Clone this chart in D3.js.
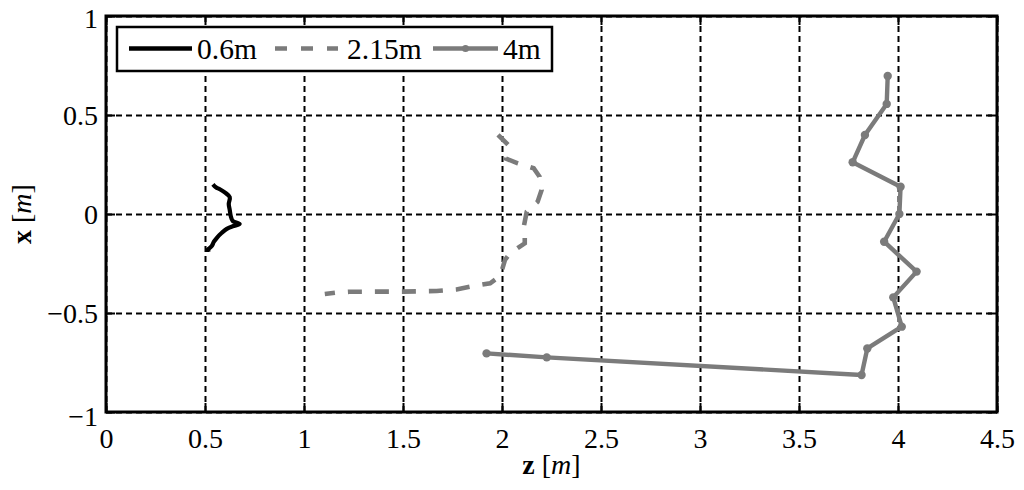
<!DOCTYPE html>
<html>
<head>
<meta charset="utf-8">
<script src="https://cdn.jsdelivr.net/npm/d3@7"></script>
<style>
html,body{margin:0;padding:0;background:#fff;}
svg text{font-family:"Liberation Serif","Times New Roman",serif;fill:#000;}
</style>
</head>
<body>
<svg id="chart" width="1024" height="490"></svg>
<script>
// ---------- data ----------
const seriesNames = ["0.6m", "2.15m", "4m"];
const zTicks = [0, 0.5, 1, 1.5, 2, 2.5, 3, 3.5, 4, 4.5];
const xTicks = [-1, -0.5, 0, 0.5, 1];

// series 0.6m : z values and x values
const z06 = [0.54, 0.555, 0.575, 0.605, 0.625, 0.62, 0.625, 0.63, 0.64, 0.675, 0.64, 0.61, 0.585, 0.56, 0.545, 0.535, 0.52, 0.51, 0.525];
const x06 = [0.15, 0.135, 0.125, 0.105, 0.085, 0.05, 0.02, -0.01, -0.035, -0.05, -0.062, -0.075, -0.095, -0.12, -0.14, -0.16, -0.175, -0.183, -0.178];

// series 2.15m
const z215 = [1.98, 2.03, 2.02, 2.08, 2.16, 2.19, 2.20, 2.18, 2.125, 2.11, 2.115, 2.115, 2.09, 2.04, 2.015, 2.0, 1.975, 1.94, 1.855, 1.77, 1.67, 1.50, 1.37, 1.23, 1.165, 1.105];
const x215 = [0.40, 0.35, 0.28, 0.256, 0.231, 0.188, 0.121, 0.062, 0.012, -0.064, -0.106, -0.148, -0.165, -0.199, -0.232, -0.283, -0.325, -0.35, -0.364, -0.381, -0.389, -0.392, -0.392, -0.393, -0.397, -0.404];

// series 4m
const z4 = [3.948, 3.943, 3.833, 3.771, 4.013, 4.007, 3.93, 4.094, 3.976, 4.019, 3.845, 3.816, 2.226, 1.922];
const x4 = [0.697, 0.556, 0.399, 0.261, 0.138, 0.0, -0.14, -0.291, -0.421, -0.569, -0.679, -0.813, -0.724, -0.704];

// ---------- layout ----------
const L = 106, T = 16, R = 997, B = 412;
const svg = d3.select("#chart");

const sx = d3.scaleLinear().domain([0, 4.5]).range([L, R]);
const sy = d3.scaleLinear().domain([-1, 1]).range([B, T]);
const fmt = d3.format("~g");
const FONT = "'Liberation Serif', 'Times New Roman', serif";
const grey = "#7b7b7b";

// grid (dashed)
const gridX = svg.append("g").attr("transform", `translate(0,${B})`)
  .call(d3.axisBottom(sx).tickValues(zTicks).tickSize(-(B - T)).tickFormat(""));
gridX.select(".domain").remove();
gridX.selectAll("line").attr("stroke", "#000").attr("stroke-width", 2).attr("stroke-dasharray", "6,4");

const gridY = svg.append("g").attr("transform", `translate(${L},0)`)
  .call(d3.axisLeft(sy).tickValues(xTicks).tickSize(-(R - L)).tickFormat(""));
gridY.select(".domain").remove();
gridY.selectAll("line").attr("stroke", "#000").attr("stroke-width", 2).attr("stroke-dasharray", "6,4");

// inner ticks (solid) on all four sides
const tl = 9;
function solidTicks(axisGen, tr) {
  const g = svg.append("g").attr("transform", tr).call(axisGen);
  g.select(".domain").remove();
  g.selectAll("line").attr("stroke", "#000").attr("stroke-width", 2);
  g.selectAll("text").remove();
  return g;
}
solidTicks(d3.axisBottom(sx).tickValues(zTicks).tickSize(-tl), `translate(0,${B})`);
solidTicks(d3.axisTop(sx).tickValues(zTicks).tickSize(-tl), `translate(0,${T})`);
solidTicks(d3.axisLeft(sy).tickValues(xTicks).tickSize(-tl), `translate(${L},0)`);
solidTicks(d3.axisRight(sy).tickValues(xTicks).tickSize(-tl), `translate(${R},0)`);

// tick labels
const xl = svg.append("g").attr("transform", `translate(0,${B})`)
  .call(d3.axisBottom(sx).tickValues(zTicks).tickSize(0).tickFormat(fmt));
xl.attr("font-family", FONT);
xl.select(".domain").remove();
xl.selectAll("text").attr("y", 36).attr("dy", null)
  .style("font-size", "28px").style("font-family", FONT);

const yl = svg.append("g").attr("transform", `translate(${L},0)`)
  .call(d3.axisLeft(sy).tickValues(xTicks).tickSize(0).tickFormat(fmt));
yl.attr("font-family", FONT);
yl.select(".domain").remove();
yl.selectAll("text").attr("x", -8).attr("dy", null)
  .attr("y", d => d === 1 ? 11 : (d === -1 ? 13 : 9.5))
  .style("font-size", "28px").style("font-family", FONT);

// series lines
const line = d3.line().x(d => sx(d[0])).y(d => sy(d[1]));
const smooth = d3.line().x(d => sx(d[0])).y(d => sy(d[1])).curve(d3.curveCatmullRom);
const plot = svg.append("g");

plot.append("path").datum(d3.zip(z06, x06)).attr("d", smooth)
  .attr("fill", "none").attr("stroke", "#000").attr("stroke-width", 4.2)
  .attr("stroke-linejoin", "round");

plot.append("path").datum(d3.zip(z215, x215)).attr("d", line)
  .attr("fill", "none").attr("stroke", grey).attr("stroke-width", 4.6)
  .attr("stroke-dasharray", "14,13");

const d4 = d3.zip(z4, x4);
plot.append("path").datum(d4).attr("d", line)
  .attr("fill", "none").attr("stroke", grey).attr("stroke-width", 4.4)
  .attr("stroke-linejoin", "round");
plot.selectAll("circle.m4").data(d4).join("circle").attr("class", "m4")
  .attr("cx", d => sx(d[0])).attr("cy", d => sy(d[1])).attr("r", 4.2).attr("fill", grey);

// frame
svg.append("rect").attr("x", L).attr("y", T).attr("width", R - L).attr("height", B - T)
  .attr("fill", "none").attr("stroke", "#000").attr("stroke-width", 3);

// legend
const lg = svg.append("g");
lg.append("rect").attr("x", 117).attr("y", 27).attr("width", 435).attr("height", 44)
  .attr("fill", "#fff").attr("stroke", "#000").attr("stroke-width", 2.5);
const ly = 48.5;
const legendItems = [
  {x1: 129, x2: 192, tx: 197, color: "#000", dash: null, marker: false},
  {x1: 275, x2: 338, tx: 347, color: grey, dash: "12,14", marker: false},
  {x1: 433, x2: 498, tx: 503, color: grey, dash: null, marker: true}
];
legendItems.forEach((it, i) => {
  lg.append("line").attr("x1", it.x1).attr("x2", it.x2).attr("y1", ly).attr("y2", ly)
    .attr("stroke", it.color).attr("stroke-width", 4.4).attr("stroke-dasharray", it.dash);
  if (it.marker) lg.append("circle").attr("cx", (it.x1 + it.x2) / 2).attr("cy", ly).attr("r", 3.5).attr("fill", it.color);
  lg.append("text").attr("x", it.tx).attr("y", 58.5).style("font-size", "29.5px").style("font-family", FONT).text(seriesNames[i]);
});

// axis labels
const xLab = svg.append("text").attr("x", (L + R) / 2).attr("y", 474)
  .attr("text-anchor", "middle").style("font-size", "28px").style("font-family", FONT);
xLab.append("tspan").style("font-weight", "bold").text("z");
xLab.append("tspan").text(" [");
xLab.append("tspan").style("font-style", "italic").text("m");
xLab.append("tspan").text("]");

const yLab = svg.append("text").attr("transform", `translate(31,${(T + B) / 2}) rotate(-90)`)
  .attr("text-anchor", "middle").style("font-size", "28px").style("font-family", FONT);
yLab.append("tspan").style("font-weight", "bold").text("x");
yLab.append("tspan").text(" [");
yLab.append("tspan").style("font-style", "italic").text("m");
yLab.append("tspan").text("]");
</script>
</body>
</html>
